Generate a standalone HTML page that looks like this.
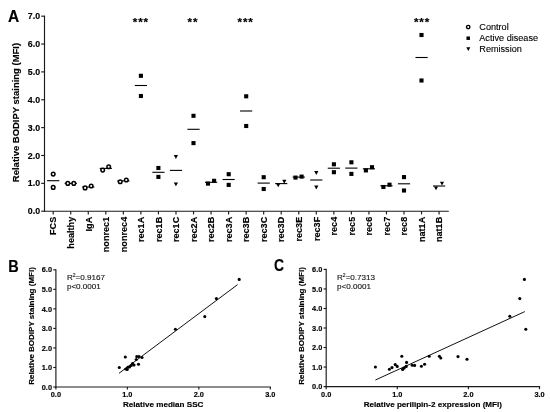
<!DOCTYPE html>
<html lang="en">
<head>
<meta charset="utf-8">
<title>Figure</title>
<style>
html,body{margin:0;padding:0;background:#fff;}
body{width:550px;height:412px;overflow:hidden;}
svg{display:block;}
</style>
</head>
<body>
<svg width="550" height="412" viewBox="0 0 550 412">
<rect x="0" y="0" width="550" height="412" fill="#fff"/>
<g stroke="#1a1a1a" stroke-width="1.15" fill="none" stroke-linecap="butt">
<path d="M44.5 15.61 V211.77"/>
<path d="M43.92 211.2 H448.8"/>
<path d="M41.20 211.20 H44.5"/>
<path d="M41.20 183.34 H44.5"/>
<path d="M41.20 155.48 H44.5"/>
<path d="M41.20 127.62 H44.5"/>
<path d="M41.20 99.76 H44.5"/>
<path d="M41.20 71.90 H44.5"/>
<path d="M41.20 44.04 H44.5"/>
<path d="M41.20 16.18 H44.5"/>
<path d="M53.20 211.2 V214.40"/>
<path d="M70.74 211.2 V214.40"/>
<path d="M88.28 211.2 V214.40"/>
<path d="M105.82 211.2 V214.40"/>
<path d="M123.36 211.2 V214.40"/>
<path d="M140.90 211.2 V214.40"/>
<path d="M158.44 211.2 V214.40"/>
<path d="M175.98 211.2 V214.40"/>
<path d="M193.52 211.2 V214.40"/>
<path d="M211.06 211.2 V214.40"/>
<path d="M228.60 211.2 V214.40"/>
<path d="M246.14 211.2 V214.40"/>
<path d="M263.68 211.2 V214.40"/>
<path d="M281.22 211.2 V214.40"/>
<path d="M298.76 211.2 V214.40"/>
<path d="M316.30 211.2 V214.40"/>
<path d="M333.84 211.2 V214.40"/>
<path d="M351.38 211.2 V214.40"/>
<path d="M368.92 211.2 V214.40"/>
<path d="M386.46 211.2 V214.40"/>
<path d="M404.00 211.2 V214.40"/>
<path d="M421.54 211.2 V214.40"/>
<path d="M439.08 211.2 V214.40"/>
</g>
<g font-family='"Liberation Sans", Arial, sans-serif' font-weight="bold" stroke="#000" stroke-width="0.15" font-size="8.8" text-anchor="end" fill="#000">
<text x="40.1" y="214.30">0.0</text>
<text x="40.1" y="186.44">1.0</text>
<text x="40.1" y="158.58">2.0</text>
<text x="40.1" y="130.72">3.0</text>
<text x="40.1" y="102.86">4.0</text>
<text x="40.1" y="75.00">5.0</text>
<text x="40.1" y="47.14">6.0</text>
<text x="40.1" y="19.28">7.0</text>
</g>
<g font-family='"Liberation Sans", Arial, sans-serif' font-weight="bold" stroke="#000" stroke-width="0.15" font-size="9.1" text-anchor="end" fill="#000">
<text transform="translate(56.45 216.8) rotate(-90)">FCS</text>
<text transform="translate(73.99 216.8) rotate(-90)">healthy</text>
<text transform="translate(91.53 216.8) rotate(-90)">IgA</text>
<text transform="translate(109.07 216.8) rotate(-90)">nonrec1</text>
<text transform="translate(126.61 216.8) rotate(-90)">nonrec4</text>
<text transform="translate(144.15 216.8) rotate(-90)">rec1A</text>
<text transform="translate(161.69 216.8) rotate(-90)">rec1B</text>
<text transform="translate(179.23 216.8) rotate(-90)">rec1C</text>
<text transform="translate(196.77 216.8) rotate(-90)">rec2A</text>
<text transform="translate(214.31 216.8) rotate(-90)">rec2B</text>
<text transform="translate(231.85 216.8) rotate(-90)">rec3A</text>
<text transform="translate(249.39 216.8) rotate(-90)">rec3B</text>
<text transform="translate(266.93 216.8) rotate(-90)">rec3C</text>
<text transform="translate(284.47 216.8) rotate(-90)">rec3D</text>
<text transform="translate(302.01 216.8) rotate(-90)">rec3E</text>
<text transform="translate(319.55 216.8) rotate(-90)">rec3F</text>
<text transform="translate(337.09 216.8) rotate(-90)">rec4</text>
<text transform="translate(354.63 216.8) rotate(-90)">rec5</text>
<text transform="translate(372.17 216.8) rotate(-90)">rec6</text>
<text transform="translate(389.71 216.8) rotate(-90)">rec7</text>
<text transform="translate(407.25 216.8) rotate(-90)">rec8</text>
<text transform="translate(424.79 216.8) rotate(-90)">nat1A</text>
<text transform="translate(442.33 216.8) rotate(-90)">nat1B</text>
</g>
<text font-family='"Liberation Sans", Arial, sans-serif' font-weight="bold" stroke="#000" stroke-width="0.15" font-size="9.48" text-anchor="middle" fill="#000" transform="translate(19.0 112.5) rotate(-90)">Relative BODIPY staining (MFI)</text>
<text font-family='"Liberation Sans", Arial, sans-serif' font-weight="bold" stroke="#000" stroke-width="0.15" font-size="16.0" fill="#000" transform="translate(8.0 21.8) scale(0.97 1)">A</text>
<text font-family='"Liberation Sans", Arial, sans-serif' font-weight="bold" stroke="#000" stroke-width="0.15" font-size="16.3" fill="#000" transform="translate(8.2 271.5) scale(0.89 1)">B</text>
<text font-family='"Liberation Sans", Arial, sans-serif' font-weight="bold" stroke="#000" stroke-width="0.15" font-size="17.0" fill="#000" transform="translate(273.9 271.4) scale(0.82 1)">C</text>
<path d="M47.10 180.70 H59.30" stroke="#000" stroke-width="1.1"/>
<circle cx="53.20" cy="174.10" r="1.80" fill="#fff" stroke="#000" stroke-width="1.50"/>
<circle cx="53.20" cy="187.40" r="1.80" fill="#fff" stroke="#000" stroke-width="1.50"/>
<path d="M64.64 183.40 H76.84" stroke="#000" stroke-width="1.1"/>
<circle cx="67.80" cy="183.40" r="1.80" fill="#fff" stroke="#000" stroke-width="1.50"/>
<circle cx="73.80" cy="183.40" r="1.80" fill="#fff" stroke="#000" stroke-width="1.50"/>
<path d="M82.18 187.00 H94.38" stroke="#000" stroke-width="1.1"/>
<circle cx="85.10" cy="187.90" r="1.80" fill="#fff" stroke="#000" stroke-width="1.50"/>
<circle cx="91.20" cy="186.00" r="1.80" fill="#fff" stroke="#000" stroke-width="1.50"/>
<path d="M99.72 168.40 H111.92" stroke="#000" stroke-width="1.1"/>
<circle cx="102.70" cy="170.10" r="1.80" fill="#fff" stroke="#000" stroke-width="1.50"/>
<circle cx="108.70" cy="166.70" r="1.80" fill="#fff" stroke="#000" stroke-width="1.50"/>
<path d="M117.26 180.90 H129.46" stroke="#000" stroke-width="1.1"/>
<circle cx="120.20" cy="181.70" r="1.80" fill="#fff" stroke="#000" stroke-width="1.50"/>
<circle cx="126.30" cy="180.00" r="1.80" fill="#fff" stroke="#000" stroke-width="1.50"/>
<path d="M134.80 85.50 H147.00" stroke="#000" stroke-width="1.1"/>
<rect x="138.85" y="73.75" width="4.10" height="4.10" fill="#000"/>
<rect x="138.85" y="93.95" width="4.10" height="4.10" fill="#000"/>
<path d="M152.34 172.30 H164.54" stroke="#000" stroke-width="1.1"/>
<rect x="156.35" y="165.95" width="4.10" height="4.10" fill="#000"/>
<rect x="156.35" y="174.85" width="4.10" height="4.10" fill="#000"/>
<path d="M169.88 170.40 H182.08" stroke="#000" stroke-width="1.1"/>
<path d="M173.80 155.02 H178.00 L175.90 158.90 Z" fill="#000"/>
<path d="M173.80 182.41 H178.00 L175.90 186.30 Z" fill="#000"/>
<path d="M187.42 129.30 H199.62" stroke="#000" stroke-width="1.1"/>
<rect x="191.45" y="113.75" width="4.10" height="4.10" fill="#000"/>
<rect x="191.45" y="141.05" width="4.10" height="4.10" fill="#000"/>
<path d="M204.96 182.30 H217.16" stroke="#000" stroke-width="1.1"/>
<rect x="205.95" y="181.55" width="4.10" height="4.10" fill="#000"/>
<rect x="212.05" y="178.75" width="4.10" height="4.10" fill="#000"/>
<path d="M222.50 179.50 H234.70" stroke="#000" stroke-width="1.1"/>
<rect x="226.65" y="172.15" width="4.10" height="4.10" fill="#000"/>
<rect x="226.65" y="182.85" width="4.10" height="4.10" fill="#000"/>
<path d="M240.04 111.00 H252.24" stroke="#000" stroke-width="1.1"/>
<rect x="244.15" y="94.25" width="4.10" height="4.10" fill="#000"/>
<rect x="244.15" y="123.95" width="4.10" height="4.10" fill="#000"/>
<path d="M257.58 183.10 H269.78" stroke="#000" stroke-width="1.1"/>
<rect x="261.65" y="175.15" width="4.10" height="4.10" fill="#000"/>
<rect x="261.65" y="186.95" width="4.10" height="4.10" fill="#000"/>
<path d="M275.12 183.60 H287.32" stroke="#000" stroke-width="1.1"/>
<path d="M276.10 183.41 H280.30 L278.20 187.30 Z" fill="#000"/>
<path d="M282.20 179.81 H286.40 L284.30 183.70 Z" fill="#000"/>
<path d="M292.66 177.10 H304.86" stroke="#000" stroke-width="1.1"/>
<rect x="293.45" y="175.55" width="4.10" height="4.10" fill="#000"/>
<rect x="299.55" y="174.55" width="4.10" height="4.10" fill="#000"/>
<path d="M310.20 180.00 H322.40" stroke="#000" stroke-width="1.1"/>
<path d="M314.20 171.02 H318.40 L316.30 174.90 Z" fill="#000"/>
<path d="M314.20 185.52 H318.40 L316.30 189.40 Z" fill="#000"/>
<path d="M327.74 168.20 H339.94" stroke="#000" stroke-width="1.1"/>
<rect x="331.85" y="162.25" width="4.10" height="4.10" fill="#000"/>
<rect x="331.85" y="170.15" width="4.10" height="4.10" fill="#000"/>
<path d="M345.28 168.10 H357.48" stroke="#000" stroke-width="1.1"/>
<rect x="349.35" y="160.25" width="4.10" height="4.10" fill="#000"/>
<rect x="349.35" y="171.85" width="4.10" height="4.10" fill="#000"/>
<path d="M362.82 168.80 H375.02" stroke="#000" stroke-width="1.1"/>
<rect x="363.85" y="168.35" width="4.10" height="4.10" fill="#000"/>
<rect x="369.95" y="165.15" width="4.10" height="4.10" fill="#000"/>
<path d="M380.36 185.80 H392.56" stroke="#000" stroke-width="1.1"/>
<rect x="381.35" y="184.95" width="4.10" height="4.10" fill="#000"/>
<rect x="387.45" y="182.65" width="4.10" height="4.10" fill="#000"/>
<path d="M397.90 183.80 H410.10" stroke="#000" stroke-width="1.1"/>
<rect x="401.95" y="175.05" width="4.10" height="4.10" fill="#000"/>
<rect x="401.95" y="188.45" width="4.10" height="4.10" fill="#000"/>
<path d="M415.44 57.50 H427.64" stroke="#000" stroke-width="1.1"/>
<rect x="419.45" y="32.95" width="4.10" height="4.10" fill="#000"/>
<rect x="419.45" y="78.45" width="4.10" height="4.10" fill="#000"/>
<path d="M432.98 186.00 H445.18" stroke="#000" stroke-width="1.1"/>
<path d="M433.90 186.41 H438.10 L436.00 190.30 Z" fill="#000"/>
<path d="M439.90 181.72 H444.10 L442.00 185.60 Z" fill="#000"/>
<g font-family='"Liberation Sans", Arial, sans-serif' font-size="11.6" font-weight="700" stroke="#000" stroke-width="0.2" letter-spacing="0.85" text-anchor="middle" fill="#000">
<text x="140.9" y="26.4">***</text>
<text x="192.9" y="26.4">**</text>
<text x="245.6" y="26.4">***</text>
<text x="422.0" y="26.4">***</text>
</g>
<circle cx="468.20" cy="27.10" r="1.71" fill="#fff" stroke="#000" stroke-width="1.42"/>
<rect x="466.46" y="36.46" width="3.48" height="3.48" fill="#000"/>
<path d="M466.31 47.20 H470.30 L468.30 50.89 Z" fill="#000"/>
<g font-family='"Liberation Sans", Arial, sans-serif' font-size="9.12" fill="#000" stroke="#000" stroke-width="0.12">
<text x="479.3" y="30.2">Control</text>
<text x="479.3" y="41.2">Active disease</text>
<text x="479.3" y="51.9">Remission</text>
</g>
<g stroke="#1a1a1a" stroke-width="1.15" fill="none">
<path d="M55.9 269.25 V387.57"/>
<path d="M55.32 387.0 H270.88"/>
<path d="M53.30 387.00 H55.9"/>
<path d="M53.30 367.47 H55.9"/>
<path d="M53.30 347.94 H55.9"/>
<path d="M53.30 328.41 H55.9"/>
<path d="M53.30 308.88 H55.9"/>
<path d="M53.30 289.35 H55.9"/>
<path d="M53.30 269.82 H55.9"/>
<path d="M55.90 387.0 V389.60"/>
<path d="M127.37 387.0 V389.60"/>
<path d="M198.84 387.0 V389.60"/>
<path d="M270.31 387.0 V389.60"/>
</g>
<g font-family='"Liberation Sans", Arial, sans-serif' font-weight="bold" stroke="#000" stroke-width="0.15" font-size="7.35" fill="#000">
<text text-anchor="end" x="52.00" y="389.65">0.0</text>
<text text-anchor="end" x="52.00" y="370.12">1.0</text>
<text text-anchor="end" x="52.00" y="350.59">2.0</text>
<text text-anchor="end" x="52.00" y="331.06">3.0</text>
<text text-anchor="end" x="52.00" y="311.53">4.0</text>
<text text-anchor="end" x="52.00" y="292.00">5.0</text>
<text text-anchor="end" x="52.00" y="272.47">6.0</text>
<text text-anchor="middle" x="55.90" y="397.00">0.0</text>
<text text-anchor="middle" x="127.37" y="397.00">1.0</text>
<text text-anchor="middle" x="198.84" y="397.00">2.0</text>
<text text-anchor="middle" x="270.31" y="397.00">3.0</text>
</g>
<text font-family='"Liberation Sans", Arial, sans-serif' font-weight="bold" stroke="#000" stroke-width="0.15" font-size="8.08" text-anchor="middle" fill="#000" x="163.20" y="407.2">Relative median SSC</text>
<text font-family='"Liberation Sans", Arial, sans-serif' font-weight="bold" stroke="#000" stroke-width="0.15" font-size="8.0" text-anchor="middle" fill="#000" transform="translate(33.9 326.0) rotate(-90)">Relative BODIPY staining (MFI)</text>
<text font-family='"Liberation Sans", Arial, sans-serif' font-size="8.1" fill="#111" stroke="#111" stroke-width="0.12" x="66.9" y="280.4">R<tspan font-size="5" dy="-3.2">2</tspan><tspan dy="3.2">=0.9167</tspan></text>
<text font-family='"Liberation Sans", Arial, sans-serif' font-size="8.1" fill="#111" stroke="#111" stroke-width="0.12" x="66.9" y="289.2">p&lt;0.0001</text>
<path d="M119.0 373.3 L237.6 284.6" stroke="#111" stroke-width="1.0"/>
<circle cx="119.3" cy="367.5" r="1.55" fill="#000"/>
<circle cx="125.3" cy="357.0" r="1.55" fill="#000"/>
<circle cx="125.7" cy="369.0" r="1.55" fill="#000"/>
<circle cx="127.2" cy="369.5" r="1.55" fill="#000"/>
<circle cx="127.8" cy="367.2" r="1.55" fill="#000"/>
<circle cx="129.5" cy="367.0" r="1.55" fill="#000"/>
<circle cx="131.2" cy="365.5" r="1.55" fill="#000"/>
<circle cx="132.5" cy="363.5" r="1.55" fill="#000"/>
<circle cx="134.0" cy="365.0" r="1.55" fill="#000"/>
<circle cx="136.2" cy="359.5" r="1.55" fill="#000"/>
<circle cx="136.8" cy="356.5" r="1.55" fill="#000"/>
<circle cx="138.5" cy="364.3" r="1.55" fill="#000"/>
<circle cx="139.0" cy="356.5" r="1.55" fill="#000"/>
<circle cx="142.0" cy="357.5" r="1.55" fill="#000"/>
<circle cx="175.4" cy="329.2" r="1.55" fill="#000"/>
<circle cx="204.8" cy="316.6" r="1.55" fill="#000"/>
<circle cx="216.4" cy="298.6" r="1.55" fill="#000"/>
<circle cx="239.2" cy="279.4" r="1.55" fill="#000"/>
<g stroke="#1a1a1a" stroke-width="1.15" fill="none">
<path d="M326.2 268.85 V387.18"/>
<path d="M325.62 386.6 H540.08"/>
<path d="M323.60 386.60 H326.2"/>
<path d="M323.60 367.07 H326.2"/>
<path d="M323.60 347.54 H326.2"/>
<path d="M323.60 328.01 H326.2"/>
<path d="M323.60 308.48 H326.2"/>
<path d="M323.60 288.95 H326.2"/>
<path d="M323.60 269.42 H326.2"/>
<path d="M326.20 386.6 V389.20"/>
<path d="M397.30 386.6 V389.20"/>
<path d="M468.40 386.6 V389.20"/>
<path d="M539.50 386.6 V389.20"/>
</g>
<g font-family='"Liberation Sans", Arial, sans-serif' font-weight="bold" stroke="#000" stroke-width="0.15" font-size="7.35" fill="#000">
<text text-anchor="end" x="322.30" y="389.25">0.0</text>
<text text-anchor="end" x="322.30" y="369.72">1.0</text>
<text text-anchor="end" x="322.30" y="350.19">2.0</text>
<text text-anchor="end" x="322.30" y="330.66">3.0</text>
<text text-anchor="end" x="322.30" y="311.13">4.0</text>
<text text-anchor="end" x="322.30" y="291.60">5.0</text>
<text text-anchor="end" x="322.30" y="272.07">6.0</text>
<text text-anchor="middle" x="326.20" y="396.60">0.0</text>
<text text-anchor="middle" x="397.30" y="396.60">1.0</text>
<text text-anchor="middle" x="468.40" y="396.60">2.0</text>
<text text-anchor="middle" x="539.50" y="396.60">3.0</text>
</g>
<text font-family='"Liberation Sans", Arial, sans-serif' font-weight="bold" stroke="#000" stroke-width="0.15" font-size="8.08" text-anchor="middle" fill="#000" x="432.80" y="407.2">Relative perilipin-2 expression (MFI)</text>
<text font-family='"Liberation Sans", Arial, sans-serif' font-weight="bold" stroke="#000" stroke-width="0.15" font-size="8.0" text-anchor="middle" fill="#000" transform="translate(303.7 326.0) rotate(-90)">Relative BODIPY staining (MFI)</text>
<text font-family='"Liberation Sans", Arial, sans-serif' font-size="8.1" fill="#111" stroke="#111" stroke-width="0.12" x="337.0" y="280.4">R<tspan font-size="5" dy="-3.2">2</tspan><tspan dy="3.2">=0.7313</tspan></text>
<text font-family='"Liberation Sans", Arial, sans-serif' font-size="8.1" fill="#111" stroke="#111" stroke-width="0.12" x="337.0" y="289.2">p&lt;0.0001</text>
<path d="M375.4 380.0 L524.8 311.6" stroke="#111" stroke-width="1.0"/>
<circle cx="375.4" cy="367.0" r="1.55" fill="#000"/>
<circle cx="389.4" cy="369.2" r="1.55" fill="#000"/>
<circle cx="392.0" cy="367.6" r="1.55" fill="#000"/>
<circle cx="395.2" cy="364.6" r="1.55" fill="#000"/>
<circle cx="397.2" cy="366.4" r="1.55" fill="#000"/>
<circle cx="401.8" cy="356.2" r="1.55" fill="#000"/>
<circle cx="402.6" cy="369.4" r="1.55" fill="#000"/>
<circle cx="404.2" cy="368.0" r="1.55" fill="#000"/>
<circle cx="406.2" cy="366.4" r="1.55" fill="#000"/>
<circle cx="406.6" cy="362.4" r="1.55" fill="#000"/>
<circle cx="412.2" cy="365.2" r="1.55" fill="#000"/>
<circle cx="414.6" cy="365.4" r="1.55" fill="#000"/>
<circle cx="421.4" cy="366.2" r="1.55" fill="#000"/>
<circle cx="424.6" cy="364.2" r="1.55" fill="#000"/>
<circle cx="429.2" cy="356.2" r="1.55" fill="#000"/>
<circle cx="439.4" cy="356.2" r="1.55" fill="#000"/>
<circle cx="440.8" cy="358.0" r="1.55" fill="#000"/>
<circle cx="458.0" cy="356.6" r="1.55" fill="#000"/>
<circle cx="467.0" cy="359.2" r="1.55" fill="#000"/>
<circle cx="524.4" cy="279.4" r="1.55" fill="#000"/>
<circle cx="519.8" cy="298.6" r="1.55" fill="#000"/>
<circle cx="509.8" cy="316.2" r="1.55" fill="#000"/>
<circle cx="525.8" cy="329.2" r="1.55" fill="#000"/>
</svg>
</body>
</html>
